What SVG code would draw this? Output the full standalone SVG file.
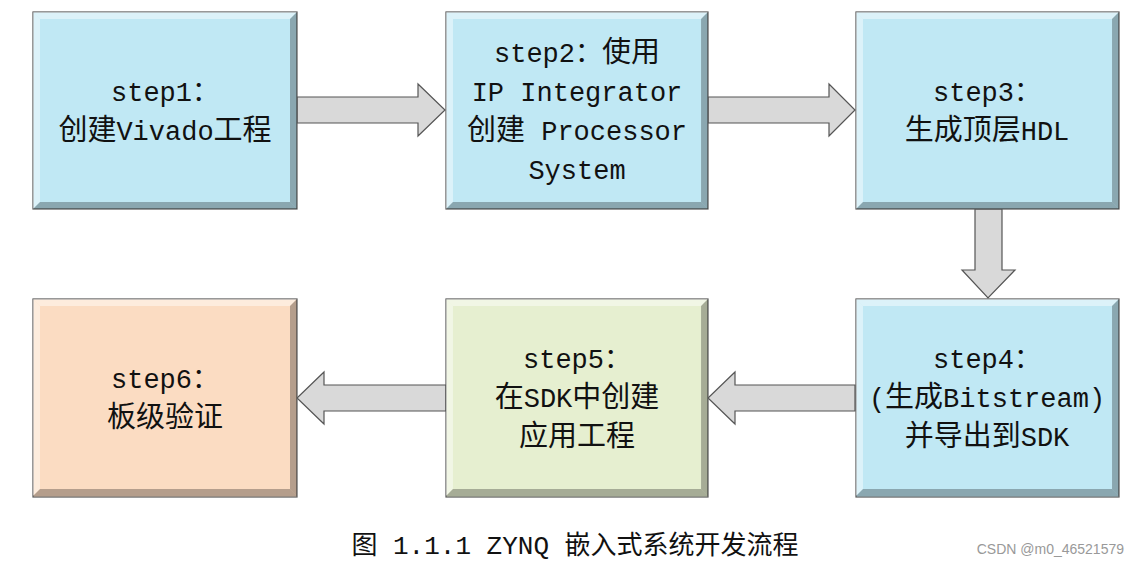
<svg xmlns="http://www.w3.org/2000/svg" width="1139" height="567" viewBox="0 0 1139 567">
<style>
.t{font-family:"Liberation Mono","Noto Sans CJK SC",monospace;font-size:27px;fill:#111;text-anchor:middle}
.c{font-family:"Noto Sans CJK SC",sans-serif;font-size:29px}
.box{stroke:#555;stroke-width:1.2}
.hi{fill:#fff;opacity:.45}
.sh{fill:#000;opacity:.28}
.arr{fill:#d9d9d9;stroke:#555;stroke-width:1.2}
</style>
<defs>
<g id="bev">
<polygon class="hi" points="0,0 264,0 257,7 7,7"/>
<polygon class="hi" points="0,0 7,7 7,190 0,197"/>
<polygon class="sh" points="264,0 264,197 257,190 257,7"/>
<polygon class="sh" points="0,197 264,197 257,190 7,190"/>
</g>
</defs>
<rect width="1139" height="567" fill="#fff"/>
<g id="connectors">
<polygon class="arr" points="297,97 418,97 418,84 445,110 418,136 418,123 297,123"/>
<polygon class="arr" points="708,97 829,97 829,84 855,110 829,136 829,123 708,123"/>
<polygon class="arr" points="975,209 1002,209 1002,270 1015,270 988,298 962,270 975,270"/>
<polygon class="arr" points="855,385 735,385 735,372 708,398 735,424 735,411 855,411"/>
<polygon class="arr" points="446,385 324,385 324,372 297,398 324,424 324,411 446,411"/>
</g>
<g id="n1" transform="translate(33,12)"><rect class="box" width="264" height="197" fill="#c0e8f4"/><use href="#bev"/>
<text class="t" x="132" y="89">step1：</text><text class="t" x="132" y="128"><tspan class="c">创建</tspan>Vivado<tspan class="c">工程</tspan></text></g>
<g id="n2" transform="translate(446,12)"><rect class="box" width="262" height="197" fill="#c0e8f4"/><use href="#bev" transform="scale(0.9924,1)"/>
<text class="t" x="131" y="50">step2：<tspan class="c">使用</tspan></text><text class="t" x="131" y="89">IP Integrator</text><text class="t" x="131" y="128"><tspan class="c">创建</tspan> Processor</text><text class="t" x="131" y="167">System</text></g>
<g id="n3" transform="translate(856,12)"><rect class="box" width="263" height="197" fill="#c0e8f4"/><use href="#bev" transform="scale(0.9962,1)"/>
<text class="t" x="131" y="89">step3：</text><text class="t" x="131" y="128"><tspan class="c">生成顶层</tspan>HDL</text></g>
<g id="n4" transform="translate(856,299)"><rect class="box" width="263" height="198" fill="#c0e8f4"/><use href="#bev" transform="scale(0.9962,1)"/>
<text class="t" x="131" y="69">step4：</text><text class="t" x="131" y="108">(<tspan class="c">生成</tspan>Bitstream)</text><text class="t" x="131" y="147"><tspan class="c">并导出到</tspan>SDK</text></g>
<g id="n5" transform="translate(446,299)"><rect class="box" width="262" height="198" fill="#e6efd0"/><use href="#bev" transform="scale(0.9924,1)"/>
<text class="t" x="131" y="69">step5：</text><text class="t" x="131" y="108"><tspan class="c">在</tspan>SDK<tspan class="c">中创建</tspan></text><text class="t" x="131" y="147"><tspan class="c">应用工程</tspan></text></g>
<g id="n6" transform="translate(33,299)"><rect class="box" width="264" height="198" fill="#fbdcc2"/><use href="#bev"/>
<text class="t" x="132" y="89">step6：</text><text class="t" x="132" y="128"><tspan class="c">板级验证</tspan></text></g>
<text x="575" y="554" style="font-family:'Liberation Mono','Noto Sans CJK SC',monospace;font-size:26px;fill:#111;text-anchor:middle">图 1.1.1 ZYNQ 嵌入式系统开发流程</text>
<text x="1124" y="554" style="font-family:'Liberation Sans','Noto Sans CJK SC',sans-serif;font-size:14px;fill:#999;text-anchor:end">CSDN @m0_46521579</text>
</svg>
